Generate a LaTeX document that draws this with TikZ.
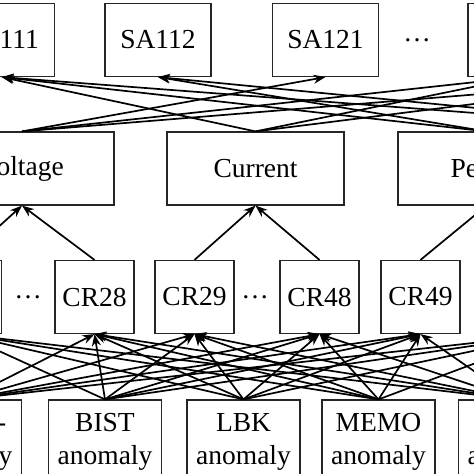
\documentclass[tikz,border=0pt]{standalone}
\usepackage{fontspec}
\setmainfont{Liberation Serif}
\usetikzlibrary{arrows.meta}
\usetikzlibrary{positioning}

\begin{document}
\begin{tikzpicture}[x=1pt, y=-1pt,
  every node/.style={font=\fontsize{27.5}{33}\selectfont, inner sep=0pt},
  sabox/.style={draw=black!85, line width=1.2pt, minimum width=106pt, minimum height=73pt},
  parbox/.style={draw=black!85, line width=1.2pt, minimum width=177pt, minimum height=73pt},
  crbox/.style={draw=black!85, line width=1.2pt, minimum width=79pt, minimum height=73pt},
  anbox/.style={draw=black!85, line width=1.2pt, minimum width=113pt, minimum height=84pt, align=center},
  link/.style={line width=1.7pt, -{Stealth[length=12pt, width=9pt]}}]

\useasboundingbox (0,0) rectangle (474,474);
\clip (0,0) rectangle (474,474);

% top row
\node[sabox] (sa111) at (1.75,40) {SA111};
\node[sabox] (sa112) at (158,40) {SA112};
\node[sabox] (sa121) at (325.5,40) {SA121};
\node (tdots) at (417,40) {\dots};
\node[sabox] (sa211) at (521,40) {SA211};
\node[sabox] (sa212) at (688,40) {SA212};

% parameters
\node[parbox, minimum width=184pt] (volt) at (22,168.5) {Voltage};
\node[parbox] (curr) at (255.5,168.5) {Current};
\node[parbox] (peri) at (486.5,168.5) {Period};
\node[parbox] (tmpr) at (717.5,168.5) {Temperature};

% correlation rules
\node[crbox] (cr1) at (-38,297) {CR1};
\node (cdotsa) at (28,297) {\dots};
\node[crbox] (cr28) at (94.5,297) {CR28};
\node[crbox] (cr29) at (194.5,297) {CR29};
\node (cdotsb) at (255,297) {\dots};
\node[crbox] (cr48) at (319.5,297) {CR48};
\node[crbox] (cr49) at (420.5,297) {CR49};
\node[crbox] (cr60) at (553,297) {CR60};

% anomalies
\node[anbox] (tmpan) at (-35,442) {TEMP-\\anomaly};
\node[anbox] (bist) at (105,442) {BIST\\anomaly};
\node[anbox] (lbk) at (243.5,442) {LBK\\anomaly};
\node[anbox] (memo) at (378.5,442) {MEMO\\anomaly};
\node[anbox] (pll) at (515,442) {PLL\\anomaly};

\foreach \a in {tmpan,bist,lbk,memo,pll}
  \foreach \c in {cr1,cr28,cr29,cr48,cr49,cr60}
    \draw[link] (\a.north) -- (\c.south);

\draw[link] (cr1.north) -- (volt.south);
\draw[link] (cr28.north) -- (volt.south);
\draw[link] (cr29.north) -- (curr.south);
\draw[link] (cr48.north) -- (curr.south);
\draw[link] (cr49.north) -- (peri.south);
\draw[link] (cr60.north) -- (peri.south);

% parameters to system anomalies
\foreach \p/\s in {volt/sa121, volt/sa211, volt/sa212, curr/sa111, curr/sa211, curr/sa212,
    peri/sa111, peri/sa112, tmpr/sa111, tmpr/sa112}
  \draw[link] (\p.north) -- (\s.south);

\end{tikzpicture}
\end{document}
